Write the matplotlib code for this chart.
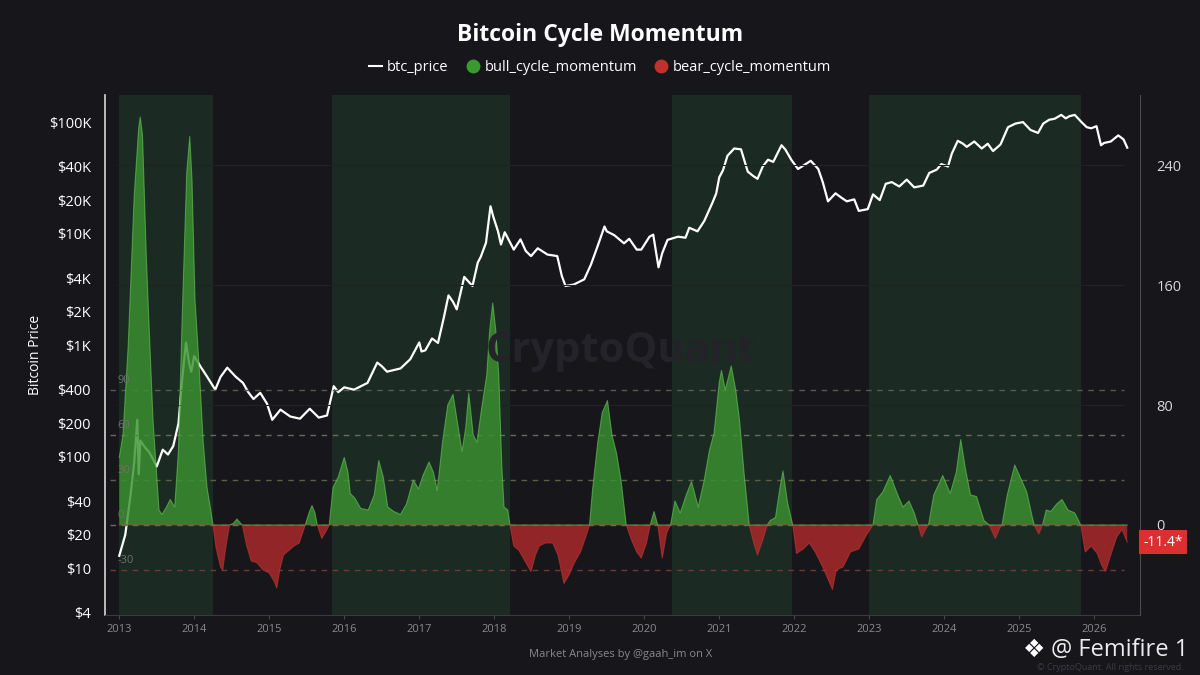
import numpy as np
import matplotlib
matplotlib.use("Agg")
import matplotlib.pyplot as plt
from matplotlib.lines import Line2D

plt.rcParams['font.family'] = ['Open Sans', 'DejaVu Sans']

# ---------------- data ----------------
price_t = [2013.00, 2013.08, 2013.15, 2013.20, 2013.24, 2013.26, 2013.28, 2013.35, 2013.40, 2013.50,
           2013.58, 2013.65, 2013.72, 2013.79, 2013.84, 2013.89, 2013.93, 2013.96, 2014.00, 2014.08,
           2014.17, 2014.28, 2014.35, 2014.44, 2014.55, 2014.65, 2014.72, 2014.79, 2014.88, 2014.97,
           2015.04, 2015.15, 2015.28, 2015.41, 2015.54, 2015.66, 2015.77, 2015.86, 2015.92, 2016.00,
           2016.13, 2016.31, 2016.44, 2016.50, 2016.57, 2016.75, 2016.88, 2017.00, 2017.03, 2017.08,
           2017.17, 2017.25, 2017.33, 2017.39, 2017.45, 2017.50, 2017.60, 2017.71, 2017.78, 2017.82,
           2017.89, 2017.95, 2017.99, 2018.05, 2018.09, 2018.14, 2018.26, 2018.35, 2018.42, 2018.49,
           2018.58, 2018.71, 2018.84, 2018.90, 2018.95, 2019.06, 2019.20, 2019.29, 2019.38, 2019.47,
           2019.50, 2019.60, 2019.73, 2019.80, 2019.90, 2019.96, 2020.07, 2020.12, 2020.19, 2020.24,
           2020.31, 2020.45, 2020.55, 2020.60, 2020.71, 2020.80, 2020.91, 2020.96, 2021.00, 2021.05,
           2021.11, 2021.20, 2021.29, 2021.38, 2021.45, 2021.51, 2021.58, 2021.65, 2021.72, 2021.83,
           2021.88, 2021.96, 2022.05, 2022.15, 2022.22, 2022.32, 2022.38, 2022.45, 2022.55, 2022.63,
           2022.70, 2022.80, 2022.86, 2022.98, 2023.05, 2023.14, 2023.22, 2023.30, 2023.40, 2023.50,
           2023.60, 2023.72, 2023.80, 2023.90, 2023.96, 2024.05, 2024.10, 2024.18, 2024.25, 2024.30,
           2024.40, 2024.50, 2024.58, 2024.65, 2024.75, 2024.85, 2024.95, 2025.05, 2025.15, 2025.25,
           2025.32, 2025.40, 2025.47, 2025.56, 2025.62, 2025.67, 2025.74, 2025.83, 2025.90, 2025.96,
           2026.03, 2026.09, 2026.13, 2026.22, 2026.32, 2026.39, 2026.44]
btc_price = [13, 20, 45, 90, 215, 70, 140, 120, 110, 82,
             116, 105, 125, 200, 500, 1060, 700, 580, 800, 650,
             525, 400, 520, 630, 525, 460, 380, 330, 375, 300,
             215, 265, 230, 220, 270, 225, 235, 430, 380, 420,
             400, 460, 700, 650, 580, 620, 750, 1060, 880, 900,
             1150, 1050, 1800, 2800, 2450, 2100, 4100, 3400, 5500, 6200,
             8300, 17600, 14000, 10500, 8000, 10300, 7200, 8900, 7000, 6300,
             7400, 6500, 6300, 4200, 3400, 3500, 3900, 5300, 7800, 11600,
             10500, 9700, 8200, 9000, 7200, 7200, 9400, 9800, 5000, 6700,
             8800, 9400, 9200, 11300, 10500, 13000, 19000, 23000, 32000, 37000,
             50000, 58000, 57000, 36000, 33000, 31000, 40000, 46000, 44000, 62000,
             57000, 46000, 38000, 42000, 45000, 38000, 29000, 19500, 23000, 21000,
             19500, 20300, 16000, 16600, 22500, 20000, 28000, 29000, 26500, 30500,
             26000, 27000, 35000, 37500, 42000, 40000, 52000, 68000, 64000, 60000,
             67000, 58000, 64000, 55000, 63000, 90000, 97000, 100000, 85000, 80000,
             97000, 105000, 107000, 116000, 108000, 113000, 116000, 100000, 90000, 88000,
             92000, 62000, 65000, 67000, 76000, 70000, 59000]

mom_t = [2013.00, 2013.05, 2013.12, 2013.20, 2013.26, 2013.28, 2013.31, 2013.36, 2013.40, 2013.45,
         2013.49, 2013.53, 2013.57, 2013.63, 2013.68, 2013.74, 2013.79, 2013.84, 2013.90, 2013.94,
         2013.97, 2014.01, 2014.06, 2014.12, 2014.17, 2014.22, 2014.25, 2014.29, 2014.35, 2014.38,
         2014.42, 2014.47, 2014.52, 2014.57, 2014.62, 2014.64, 2014.70, 2014.76, 2014.83, 2014.92,
         2015.00, 2015.07, 2015.10, 2015.14, 2015.19, 2015.26, 2015.33, 2015.40, 2015.48, 2015.53,
         2015.57, 2015.61, 2015.64, 2015.70, 2015.76, 2015.80, 2015.85, 2015.92, 2016.00, 2016.05,
         2016.08, 2016.14, 2016.22, 2016.32, 2016.40, 2016.46, 2016.52, 2016.58, 2016.66, 2016.75,
         2016.83, 2016.92, 2016.99, 2017.05, 2017.13, 2017.19, 2017.24, 2017.31, 2017.38, 2017.45,
         2017.52, 2017.57, 2017.62, 2017.66, 2017.72, 2017.77, 2017.83, 2017.90, 2017.94, 2017.98,
         2018.02, 2018.06, 2018.10, 2018.13, 2018.18, 2018.21, 2018.26, 2018.33, 2018.42, 2018.49,
         2018.55, 2018.60, 2018.68, 2018.78, 2018.85, 2018.93, 2019.00, 2019.07, 2019.15, 2019.22,
         2019.27, 2019.31, 2019.38, 2019.44, 2019.51, 2019.57, 2019.63, 2019.69, 2019.76, 2019.83,
         2019.90, 2019.96, 2020.03, 2020.08, 2020.13, 2020.18, 2020.24, 2020.30, 2020.35, 2020.41,
         2020.48, 2020.56, 2020.63, 2020.72, 2020.80, 2020.87, 2020.93, 2021.00, 2021.03, 2021.08,
         2021.16, 2021.22, 2021.27, 2021.33, 2021.40, 2021.46, 2021.51, 2021.58, 2021.64, 2021.68,
         2021.75, 2021.81, 2021.85, 2021.91, 2021.98, 2022.03, 2022.12, 2022.20, 2022.28, 2022.38,
         2022.44, 2022.51, 2022.56, 2022.65, 2022.75, 2022.86, 2022.97, 2023.05, 2023.10, 2023.18,
         2023.28, 2023.38, 2023.45, 2023.53, 2023.60, 2023.65, 2023.70, 2023.76, 2023.79, 2023.86,
         2023.98, 2024.08, 2024.16, 2024.22, 2024.28, 2024.35, 2024.43, 2024.53, 2024.60, 2024.68,
         2024.74, 2024.77, 2024.84, 2024.94, 2025.03, 2025.10, 2025.17, 2025.20, 2025.26, 2025.31,
         2025.36, 2025.42, 2025.50, 2025.57, 2025.65, 2025.74, 2025.82, 2025.88, 2025.96, 2026.04,
         2026.10, 2026.15, 2026.22, 2026.30, 2026.37, 2026.44]
momentum = [45, 60, 120, 220, 265, 272, 260, 180, 130, 70,
            40, 10, 7, 12, 17, 12, 50, 140, 235, 259,
            230, 150, 110, 55, 25, 10, 0, -15, -28, -30,
            -15, 0, 1, 4, 1, 0, -14, -24, -25, -30,
            -32, -38, -42, -30, -20, -17, -14, -12, 0, 8,
            13, 8, 0, -9, -4, 0, 25, 32, 45, 35,
            21, 18, 11, 10, 20, 43, 32, 12, 9, 7,
            14, 30, 24, 33, 42, 35, 23, 55, 80, 87,
            65, 49, 65, 88, 60, 55, 77, 100, 130, 148,
            130, 100, 40, 12, 10, 0, -14, -17, -25, -31,
            -20, -14, -12, -12, -20, -39, -33, -25, -18, -8,
            0, 23, 55, 75, 83, 60, 48, 30, 0, -10,
            -18, -22, -12, 0, 9, 0, -22, -5, 0, 16,
            8, 20, 29, 12, 30, 50, 61, 95, 103, 90,
            106, 90, 70, 35, 0, -12, -20, -10, 0, 3,
            5, 25, 36, 15, 0, -19, -16, -12, -18, -28,
            -35, -43, -30, -28, -18, -16, -6, 0, 17, 22,
            33, 20, 12, 16, 8, 0, -8, -2, 0, 20,
            33, 21, 35, 57, 38, 20, 19, 3, 0, -9,
            -2, 0, 20, 40, 30, 22, 6, 0, -6, 0,
            10, 9, 14, 17, 10, 8, 0, -18, -14, -19,
            -27, -31, -20, -8, -3, -11.4]

bull_start = [2013.00, 2015.83, 2020.37, 2023.00]
bull_end = [2014.25, 2018.21, 2021.97, 2025.82]

ref_levels = [90, 60, 30, 0, -30]
price_ticks = [4, 10, 20, 40, 100, 200, 400, 1000, 2000, 4000, 10000, 20000, 40000, 100000]
price_labels = ["$4", "$10", "$20", "$40", "$100", "$200", "$400", "$1K", "$2K", "$4K",
                "$10K", "$20K", "$40K", "$100K"]
mom_ticks = [0, 80, 160, 240]
years = list(range(2013, 2027))
last_value = -11.4

# ---------------- styling ----------------
BG = '#16161b'
BAND = '#1b2a23'
GREEN = '#3a9230'
GREEN_EDGE = '#6cc85a'
RED = '#a8282a'
RED_EDGE = '#c23a33'

fig = plt.figure(figsize=(12, 6.75), dpi=100, facecolor=BG)
ax = fig.add_axes([0.0875, 0.0889, 0.8625, 0.7704])
ax.set_facecolor(BG)
ax2 = ax.twinx()

# bull-cycle bands
for s, e in zip(bull_start, bull_end):
    ax.axvspan(s, e, color=BAND, zorder=0, lw=0)

# price (log axis)
ax.plot(price_t, btc_price, color='white', lw=1.6, zorder=3)
ax.set_yscale('log')
ax.set_ylim(3.83, 175000)
ax.set_xlim(2012.81, 2026.61)
ax.set_yticks(price_ticks)
ax.set_yticklabels(price_labels)
ax.minorticks_off()
ax.tick_params(axis='y', colors='white', labelsize=10.5, length=0, pad=10)
ax.tick_params(axis='x', colors='#8a8a8a', labelsize=8, length=3, color='#444449')
ax.set_xticks(years)
ax.set_xticklabels([str(y) for y in years])
ax.set_ylabel('Bitcoin Price', color='white', fontsize=10, labelpad=4)

# momentum (right axis)
mt = np.array(mom_t)
mv = np.array(momentum)
ax2.set_ylim(-60, 286.7)
ax2.set_yticks(mom_ticks)
ax2.tick_params(axis='y', colors='#d8d8d8', labelsize=10.5, length=0, pad=12)
for g in [80, 160, 240]:
    ax2.axhline(g, xmin=0.012, xmax=0.985, color='#212128', lw=0.8, zorder=1)

ax2.fill_between(mt, 0, mv, where=mv >= 0, interpolate=True, color=GREEN, alpha=0.82, lw=0, zorder=4)
ax2.fill_between(mt, 0, mv, where=mv <= 0, interpolate=True, color=RED, alpha=0.85, lw=0, zorder=4)
ax2.plot(mt, np.clip(mv, 0, None), color=GREEN_EDGE, lw=0.8, alpha=0.6, zorder=5)
ax2.plot(mt, np.clip(mv, None, 0), color=RED_EDGE, lw=0.8, alpha=0.6, zorder=5)

lvl_colors = {90: '#5a5c48', 60: '#6a6a5c', 30: '#5d5f45', 0: '#6d6d6d', -30: '#6e3a33'}
for lv in ref_levels:
    ax2.axhline(lv, xmin=0.005, xmax=0.985, color=lvl_colors[lv], lw=1, ls=(0, (4, 4)), zorder=3.5)
    ax2.text(2012.98, lv + 2.5, str(lv), color='#6f6f6f', fontsize=8, ha='left', va='bottom', zorder=6)

# last value label
ax2.text(1.003, last_value, f'{last_value}*', transform=ax2.get_yaxis_transform(),
         color='white', fontsize=10, ha='left', va='center', zorder=10, clip_on=False,
         bbox=dict(boxstyle='square,pad=0.3', fc='#dd2f2f', ec='none'))

# spines
for a in (ax, ax2):
    a.spines['top'].set_visible(False)
ax.spines['left'].set_color('#d8d8d8')
ax.spines['left'].set_linewidth(1.2)
ax.spines['bottom'].set_color('#3a3a40')
ax2.spines['right'].set_color('#4a4a50')
ax2.spines['left'].set_visible(False)
ax2.spines['bottom'].set_visible(False)
ax.spines['right'].set_visible(False)

# watermark
fig.text(0.517, 0.48, 'CryptoQuant', color='#232329', fontsize=30, ha='center', va='center',
         fontweight='bold', zorder=0)

# title & legend
fig.text(0.5, 0.948, 'Bitcoin Cycle Momentum', color='white', fontsize=16.5, fontweight='bold',
         ha='center', va='center')
handles = [Line2D([0], [0], color='white', lw=1.5),
           Line2D([0], [0], marker='o', color='none', markerfacecolor='#3a9a30', markeredgecolor='none', markersize=10),
           Line2D([0], [0], marker='o', color='none', markerfacecolor='#c0302c', markeredgecolor='none', markersize=10)]
leg = fig.legend(handles, ['btc_price', 'bull_cycle_momentum', 'bear_cycle_momentum'],
                 loc='center', bbox_to_anchor=(0.5, 0.9), ncol=3, frameon=False,
                 fontsize=10.5, labelcolor='white', handlelength=0.9, handletextpad=0.35, columnspacing=1.2)

# footer
fig.text(0.517, 1 - 654 / 675, 'Market Analyses by @gaah_im on X', color='#8a8a8a', fontsize=8,
         ha='center', va='center')
fig.text(0.925, 1 - 668 / 675, '© CryptoQuant. All rights reserved.', color='#3c3c42', fontsize=6.5,
         ha='center', va='center')
fig.text(0.862, 1 - 650 / 675, '❖', color='white', fontsize=18, ha='center', va='center',
         family=['DejaVu Sans'])
fig.text(0.99, 1 - 650 / 675, '@ Femifire 1', color='#ececec', fontsize=17, ha='right', va='center')

fig.savefig('out.png', dpi=100, facecolor=BG)
